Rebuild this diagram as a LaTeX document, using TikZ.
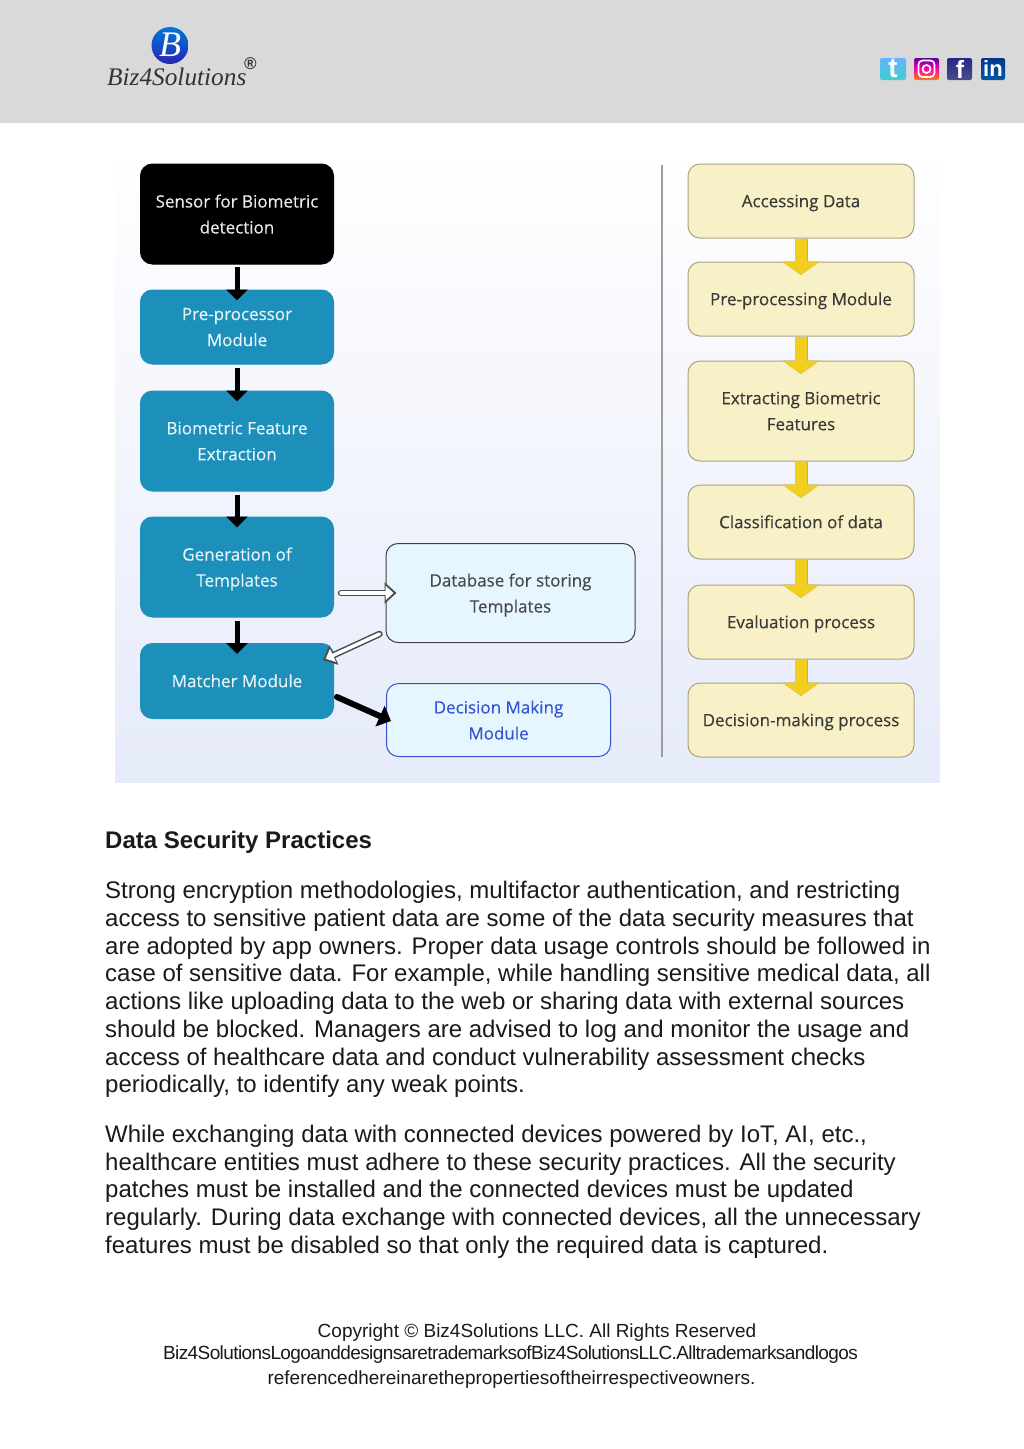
\documentclass[tikz,border=0pt]{standalone}
\usepackage{fontspec}
\setmainfont{Liberation Sans}
\newfontfamily\diagfont[FakeBold=0.25]{Open Sans}
\newfontfamily\logofont{Liberation Serif}
\usetikzlibrary{arrows.meta,positioning,shadings}
\definecolor{hdrgrey}{HTML}{D9D9D9}
\definecolor{tealbox}{HTML}{1D8FBB}
\definecolor{creambox}{HTML}{F8F0C6}
\definecolor{creamline}{HTML}{A9A383}
\definecolor{iceblue}{HTML}{E6F6FE}
\definecolor{deciblue}{HTML}{3553D0}
\definecolor{arrowyellow}{HTML}{F2CE1E}
\definecolor{arrowedge}{HTML}{C9AE45}
\definecolor{bodyink}{HTML}{1A1A1A}
\definecolor{panelbot}{HTML}{E6EBFA}
\tikzset{
  x=1pt,y=-1pt,
  basebox/.style={rounded corners=12pt,align=center,inner sep=0pt,font=\diagfont\fontsize{17}{26}\selectfont,line width=1pt,execute at begin node={\strut\rule{0pt}{20.2pt}},execute at end node=\strut},
  twoline/.style={text depth=0pt},
  blackbox/.style={basebox,fill=black,text=white!92!black,minimum width=193pt,draw=black},
  bluebox/.style={basebox,fill=tealbox,text=white!90!tealbox,minimum width=193pt,draw=tealbox},
  yellowbox/.style={basebox,fill=creambox,draw=creamline,text=black!78,minimum width=226pt},
  dbbox/.style={basebox,fill=iceblue,draw=black!75,text=black!72,minimum width=249pt,minimum height=99pt},
  decibox/.style={basebox,fill=iceblue,draw=deciblue,text=deciblue,minimum width=224pt,minimum height=73pt},
  blackarrow/.style={draw=black,line width=5pt,-{Triangle[length=11pt,width=21pt]}},
  yellowarrow/.style={draw=arrowyellow,line width=12pt,-{Triangle[length=12.5pt,width=35pt]}},
  yellowedge/.style={draw=arrowedge,line width=13pt,-{Triangle[length=13.5pt,width=37pt]}},
  hollowout/.style={draw=black!70,line width=6.5pt,line cap=round,-{Triangle[length=12pt,width=21pt]}},
  hollowin/.style={draw=white,line width=3.5pt,line cap=round,-{Triangle[length=8pt,width=14pt]}},
  bodyline/.style={anchor=base west,inner sep=0pt,text=bodyink,font=\fontsize{24}{28}\selectfont},
  footline/.style={anchor=base,inner sep=0pt,text=bodyink,font=\fontsize{19}{24}\selectfont},
  iconletter/.style={inner sep=0pt,text=white,font=\bfseries\fontsize{22}{22}\selectfont},
}
\begin{document}
\begin{tikzpicture}
\useasboundingbox (0,0) rectangle (1024,1449);
\fill[white] (0,0) rectangle (1024,1449);
% header
\fill[hdrgrey] (0,0) rectangle (1024,123);
\shade[top color=blue!45!cyan!85!black,bottom color=blue!65!black!85] (170,45.5) circle[radius=18.5];
\node[inner sep=0pt,text=white,font=\logofont\itshape\fontsize{36}{36}\selectfont] (logoB) at (170,45) {B};
\node[anchor=base west,inner sep=0pt,text=black!80,font=\logofont\itshape\fontsize{25.3}{27}\selectfont] (logoT) at (107,85) {Biz4Solutions};
\node[inner sep=0pt,text=black!80,font=\bfseries\fontsize{17}{17}\selectfont] (logoR) at (250.5,64) {®};
% social icons
\shade[top color=cyan!50!blue!60,bottom color=cyan!50!teal!75,rounded corners=2pt] (880,58) rectangle (906,80);
\node[iconletter,font=\bfseries\fontsize{28}{28}\selectfont] (iconT) at (893,68) {t};
\shade[top color=violet!75!blue,bottom color=orange,middle color=magenta!70!red,rounded corners=2pt] (914,58) rectangle (939,80);
\draw[white,line width=1.7pt,rounded corners=4pt] (918.5,60.5) rectangle (934.5,77);
\draw[white,line width=1.7pt] (926.5,69) circle[radius=4];
\shade[top color=blue!45!black!85,bottom color=blue!35!black!70,rounded corners=2pt] (947,58) rectangle (972,80);
\node[iconletter,font=\bfseries\fontsize{25}{25}\selectfont] (iconF) at (960,69) {f};
\shade[top color=cyan!40!blue!55!black,bottom color=teal!70!blue,rounded corners=2pt] (981,58) rectangle (1005,80);
\node[iconletter] (iconL) at (993,69) {in};
% panel
\shade[top color=white,bottom color=panelbot] (115,145) rectangle (940,782);
\draw[black!38,line width=2.2pt] (662,165) -- (662,757);
% left column
\node[blackbox,twoline,minimum height=100pt] (sensor) at (237,214) {Sensor for Biometric\\detection};
\node[bluebox,twoline,minimum height=74pt] (pre) at (237,327) {Pre-processor\\Module};
\node[bluebox,twoline,minimum height=100pt] (bio) at (237,441) {Biometric Feature\\Extraction};
\node[bluebox,twoline,minimum height=100pt] (tmpl) at (237,567) {Generation of\\Templates};
\node[bluebox,minimum height=75pt] (match) at (237,681) {Matcher Module};
% middle
\node[dbbox,twoline] (db) at (510.5,593) {Database for storing\\Templates};
\node[decibox,twoline] (deci) at (498.5,720) {Decision Making\\Module};
% right column
\node[yellowbox,minimum height=74pt] (r1) at (801,201) {Accessing Data};
\node[yellowbox,minimum height=74pt] (r2) at (801,299) {Pre-processing Module};
\node[yellowbox,twoline,minimum height=100pt] (r3) at (801,411) {Extracting Biometric\\Features};
\node[yellowbox,minimum height=74pt] (r4) at (801,522) {Classification of data};
\node[yellowbox,minimum height=74pt] (r5) at (801,622) {Evaluation process};
\node[yellowbox,minimum height=74pt] (r6) at (801,720) {Decision-making process};
% black arrows
\draw[blackarrow,shorten <=2pt,shorten >=-11pt] (sensor.south) -- (pre.north);
\draw[blackarrow,shorten <=3pt,shorten >=-11pt] (pre.south) -- (bio.north);
\draw[blackarrow,shorten <=3pt,shorten >=-11pt] (bio.south) -- (tmpl.north);
\draw[blackarrow,shorten <=3pt,shorten >=-11pt] (tmpl.south) -- (match.north);
\draw[line width=6pt,line cap=round,-{Triangle[length=12pt,width=22pt]}] ([shift={(3,16)}]match.east) -- ([shift={(5,1)}]deci.west);
% hollow arrows
\draw[hollowout,shorten <=7pt,shorten >=-11pt] (tmpl.east |- db.west) -- (db.west);
\draw[hollowin,shorten <=7pt,shorten >=-8pt] (tmpl.east |- db.west) -- (db.west);
\coordinate (dbout) at ([shift={(-6,-9)}]db.south west);
\coordinate (matchin) at ([shift={(-11,17)}]match.north east);
\draw[hollowout] (dbout) -- (matchin);
\draw[hollowin,shorten >=3pt] (dbout) -- (matchin);
% yellow arrows
\foreach \a/\b in {r1/r2,r2/r3,r3/r4,r4/r5,r5/r6}{
  \draw[yellowedge,shorten >=-13.5pt] (\a.south) -- (\b.north);
  \draw[yellowarrow,shorten >=-13pt] (\a.south) -- (\b.north);
}
% body text
\node[bodyline,font=\bfseries\fontsize{24}{28}\selectfont] (title) at (105,848) {Data Security Practices};
\node[bodyline] (p1) at (105,898) {Strong encryption methodologies, multifactor authentication, and restricting};
\node[bodyline] (p2) at (105,926) {access to sensitive patient data are some of the data security measures that};
\node[bodyline] (p3) at (105,954) {are adopted by app owners. Proper data usage controls should be followed in};
\node[bodyline] (p4) at (105,981.5) {case of sensitive data. For example, while handling sensitive medical data, all};
\node[bodyline] (p5) at (105,1009.5) {actions like uploading data to the web or sharing data with external sources};
\node[bodyline] (p6) at (105,1037.5) {should be blocked. Managers are advised to log and monitor the usage and};
\node[bodyline] (p7) at (105,1065.5) {access of healthcare data and conduct vulnerability assessment checks};
\node[bodyline] (p8) at (105,1092.5) {periodically, to identify any weak points.};
\node[bodyline] (q1) at (105,1142) {While exchanging data with connected devices powered by IoT, AI, etc.,};
\node[bodyline] (q2) at (105,1170) {healthcare entities must adhere to these security practices. All the security};
\node[bodyline] (q3) at (105,1197.5) {patches must be installed and the connected devices must be updated};
\node[bodyline] (q4) at (105,1225.5) {regularly. During data exchange with connected devices, all the unnecessary};
\node[bodyline] (q5) at (105,1253.5) {features must be disabled so that only the required data is captured.};
% footer
\node[footline] (f1) at (537,1337) {Copyright © Biz4Solutions LLC. All Rights Reserved};
\node[footline] (f2) at (510.5,1359) {\addfontfeature{LetterSpace=-3.1}Biz4SolutionsLogoanddesignsaretrademarksofBiz4SolutionsLLC.Alltrademarksandlogos};
\node[footline] (f3) at (511.5,1384) {referencedhereinarethepropertiesoftheirrespectiveowners.};
\end{tikzpicture}
\end{document}
